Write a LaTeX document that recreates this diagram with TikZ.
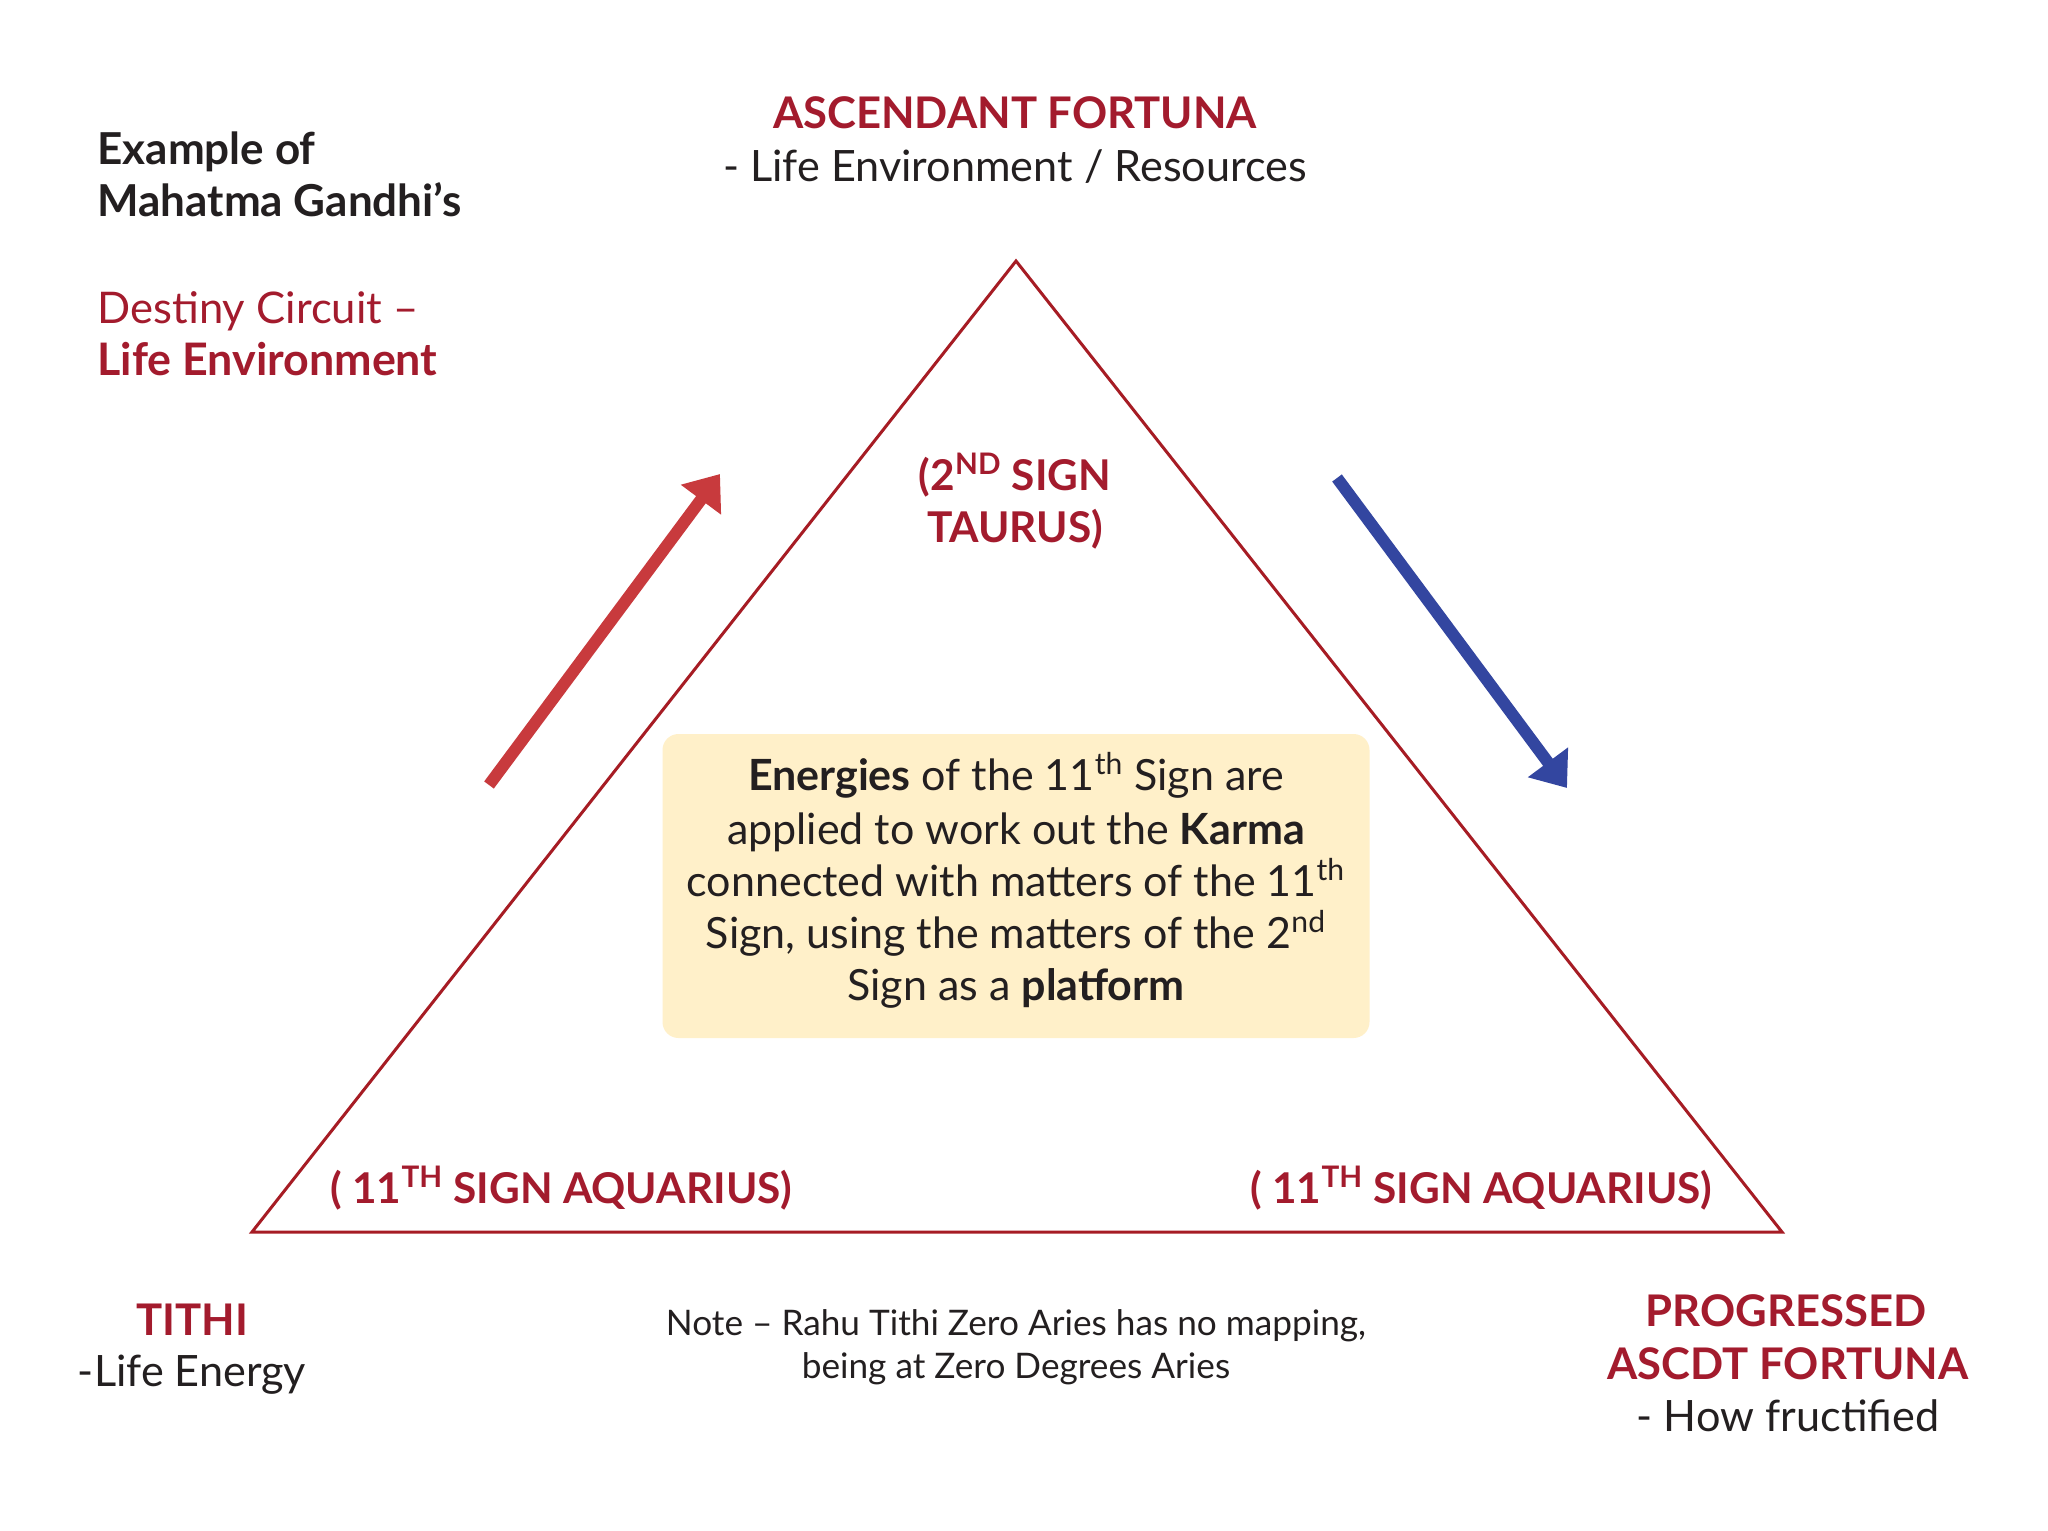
\documentclass[tikz,border=0pt]{standalone}
\usepackage{fontspec}
\setmainfont{Lato}
\usetikzlibrary{arrows.meta}
\definecolor{hdred}{HTML}{A31B2D}
\definecolor{txt}{HTML}{231F20}
\definecolor{trired}{HTML}{A61C24}
\definecolor{boxfill}{HTML}{FFF0C9}
\definecolor{arrred}{HTML}{C83A3D}
\definecolor{arrblue}{HTML}{3346A0}
\newcommand{\fsz}[1]{\fontsize{#1}{#1}\selectfont}
\tikzset{
  hd/.style={anchor=base, text=hdred, font=\fsz{21.8}\bfseries, inner sep=0pt},
  sub/.style={anchor=base, text=txt, font=\fsz{21.6}, inner sep=0pt},
  lbl/.style={anchor=base, text=hdred, font=\fsz{21.2}\bfseries, inner sep=0pt},
  boxtxt/.style={anchor=base, text=txt, font=\fsz{21.5}, inner sep=0pt},
  note/.style={anchor=base, text=txt, font=\fsz{17.6}, inner sep=0pt},
  tri/.style={draw=trired, line width=1.5pt, line join=miter},
  bigarrow/.style={line width=6pt, -{Triangle[length=16pt, width=24pt]}},
}
\begin{document}
\begin{tikzpicture}[x=0.5pt,y=-0.5pt]
\useasboundingbox[fill=white] (0,0) rectangle (2048,1530);

% triangle
\coordinate (A) at (1016,261);
\coordinate (B) at (252,1232);
\coordinate (C) at (1782,1232);
\draw[tri] (A) -- (B) -- (C) -- cycle;

% yellow box
\node[fill=boxfill, rounded corners=8pt, minimum width=353.5pt, minimum height=152pt, inner sep=0pt] (bx) at (1016,886) {};

% arrows
\coordinate (r1) at (489,785);
\coordinate (r2) at (720,474);
\draw[bigarrow, arrred] (r1) -- (r2);
\coordinate (b1) at (1337,478);
\coordinate (b2) at (1567,788);
\draw[bigarrow, arrblue] (b1) -- (b2);

% top header
\node[hd] (asc) at (1015,129) {ASCENDANT FORTUNA};
\node[sub] (ascs) at (1015,182) {- Life Environment / Resources};

% top-left title
\node[sub, anchor=base west, font=\fsz{22}\bfseries] (ex1) at (97,165) {Example of};
\node[sub, anchor=base west, font=\fsz{22}\bfseries] (ex2) at (97,217) {Mahatma Gandhi’s};
\node[sub, anchor=base west, text=hdred, font=\fsz{21.8}] (dc1) at (97,323) {Destiny Circuit –};
\node[sub, anchor=base west, text=hdred, font=\fsz{22.4}\bfseries] (dc2) at (97,375) {Life Environment};

% apex labels
\node[lbl] (t1) at (1015,490) {(2\textsuperscript{ND} SIGN};
\node[lbl] (t2) at (1015,542) {TAURUS)};

% bottom corner labels
\node[lbl, anchor=base west] (aql) at (330,1203) {( 11\textsuperscript{TH} SIGN AQUARIUS)};
\node[lbl, anchor=base west] (aqr) at (1250,1203) {( 11\textsuperscript{TH} SIGN AQUARIUS)};

% box text
\node[boxtxt] (l1) at (1016,790) {\textbf{Energies} of the 11\textsuperscript{th} Sign are};
\node[boxtxt] (l2) at (1016,844) {applied to work out the \textbf{Karma}};
\node[boxtxt] (l3) at (1016,896) {connected with matters of the 11\textsuperscript{th}};
\node[boxtxt] (l4) at (1016,948) {Sign, using the matters of the 2\textsuperscript{nd}};
\node[boxtxt] (l5) at (1016,1000) {Sign as a \textbf{platform}};

% bottom left
\node[hd] (tithi) at (192,1335) {TITHI};
\node[sub] (tithis) at (192,1386) {-Life Energy};

% note
\node[note] (n1) at (1016,1335) {Note – Rahu Tithi Zero Aries has no mapping,};
\node[note] (n2) at (1016,1378) {being at Zero Degrees Aries};

% bottom right
\node[hd] (pr1) at (1786,1326) {PROGRESSED};
\node[hd] (pr2) at (1788,1379) {ASCDT FORTUNA};
\node[sub] (pr3) at (1788,1431) {- How fructified};
\end{tikzpicture}
\end{document}
